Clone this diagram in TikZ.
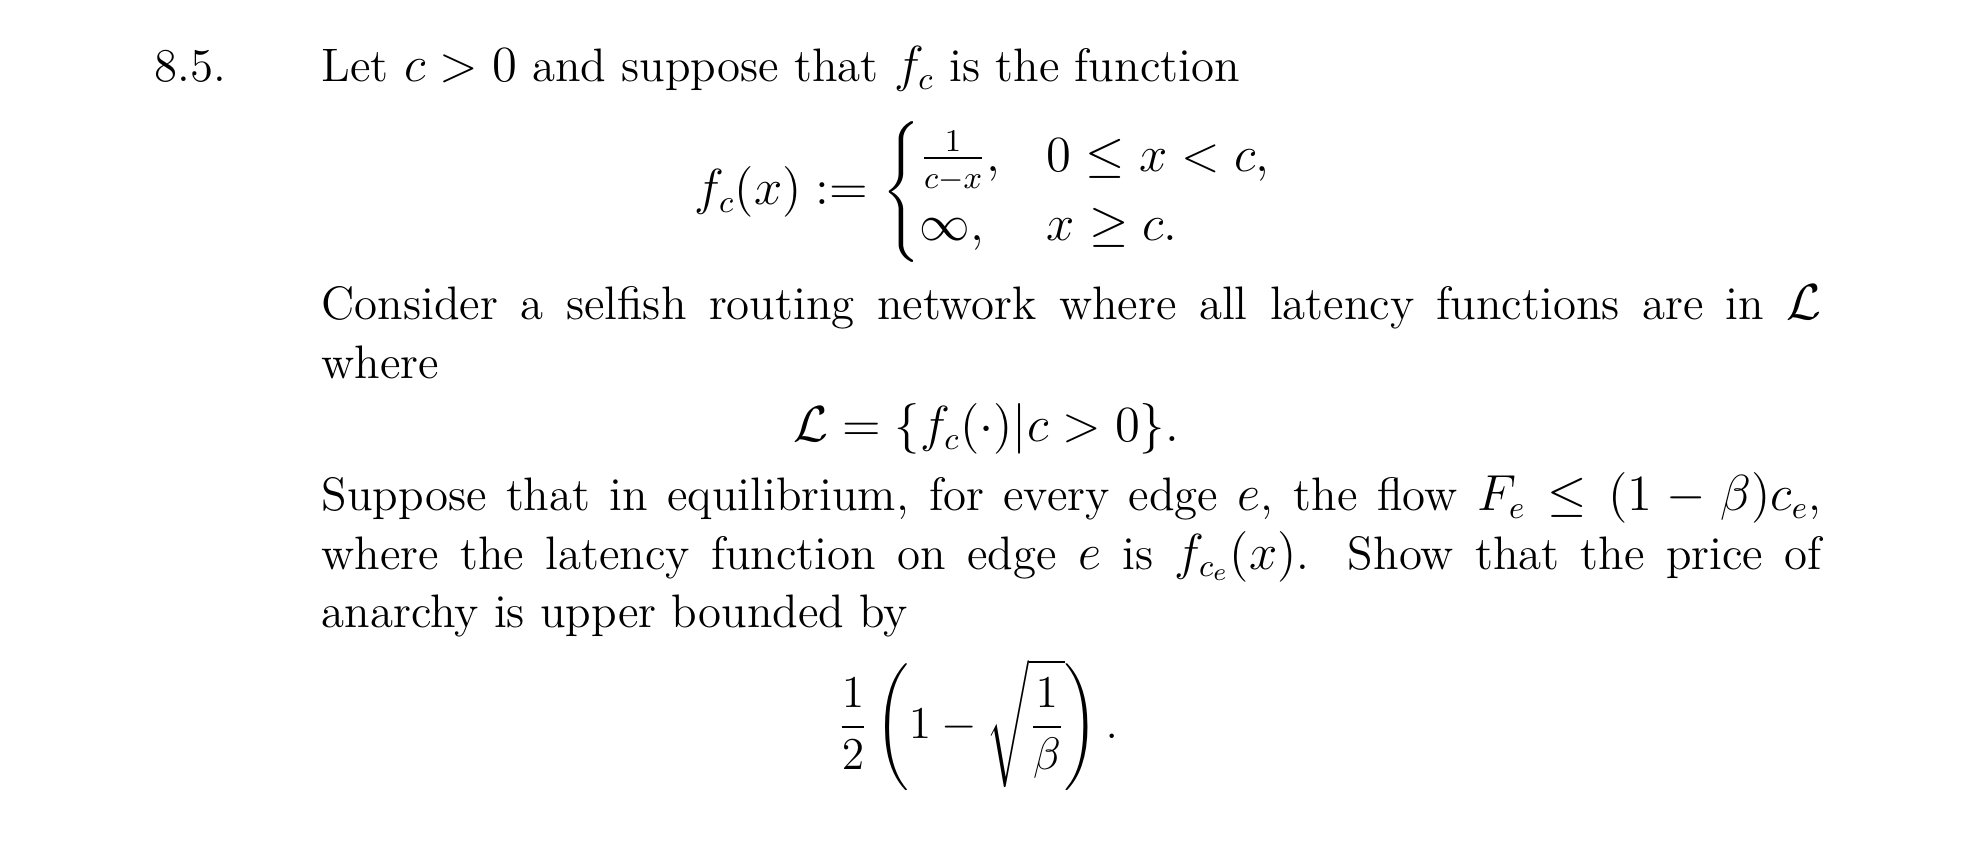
\documentclass[tikz,border=0pt]{standalone}
\usepackage{amsmath,amssymb}
\begin{document}
\begin{tikzpicture}[x=0.01cm,y=-0.01cm,
  txt/.style={inner sep=0pt,font=\fontsize{13.35}{16.5}\selectfont},
  para/.style={txt,text width=14.99cm,align=justify}]
\useasboundingbox (0,0) rectangle (1982,862);
\node[txt,anchor=base west] (num) at (154,82) {8.5.};
\node[txt,anchor=base west] (l1) at (321,82) {Let $c>0$ and suppose that $f_c$ is the function};
\node[txt] (fc) at (984,192) {$\displaystyle f_c(x):=\begin{cases}\frac{1}{c-x}, & 0\le x<c,\\ \infty, & x\ge c.\end{cases}$};
\node[para,anchor=base west] (p2) at (321,320) {Consider a selfish routing network where all latency functions are in $\mathcal{L}$\linebreak where};
\node[txt,anchor=base] (L) at (986,442) {$\mathcal{L}=\{f_c(\cdot)|c>0\}.$};
\node[para,anchor=base west] (p3) at (321,511) {Suppose that in equilibrium, for every edge $e$, the flow $F_e\le(1-\beta)c_e$, where the latency function on edge $e$ is $f_{c_e}(x)$. Show that the price of anarchy is upper bounded by};
\node[txt,scale=0.9] (b) at (978,725) {$\displaystyle\frac{1}{2}\left(1-\sqrt{\frac{1}{\beta}}\right).$};
\end{tikzpicture}
\end{document}
